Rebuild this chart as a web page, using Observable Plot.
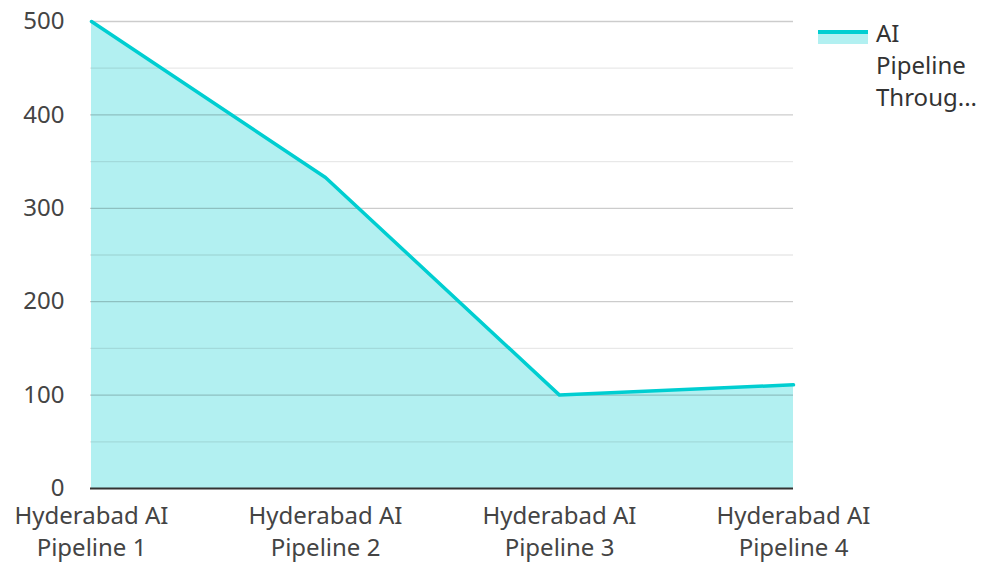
<!DOCTYPE html>
<html><head><meta charset="utf-8">
<script src="https://cdn.jsdelivr.net/npm/d3@7"></script>
<script src="https://cdn.jsdelivr.net/npm/@observablehq/plot@0.6"></script>
<style>
body{margin:0;background:#fff;font-family:"Noto Sans",sans-serif;}
#wrap{position:relative;width:982px;height:562px;overflow:hidden;}
#chart svg{overflow:visible;}
#legend{position:absolute;left:818px;top:17px;display:flex;align-items:flex-start;font-size:24px;color:#333;line-height:32px;}
#legend .sw{width:50px;height:14px;margin-top:13px;margin-right:8px;position:relative;background:rgba(0,206,209,0.3);border-top:4px solid #00CED1;box-sizing:border-box;}
</style></head><body>
<div id="wrap"><div id="chart"></div>
<div id="legend"><div class="sw"></div><div>AI<br>Pipeline<br>Throug...</div></div></div>
<script>
const categories = ["Hyderabad AI Pipeline 1","Hyderabad AI Pipeline 2","Hyderabad AI Pipeline 3","Hyderabad AI Pipeline 4"];
const values = [500, 333, 100, 111];
const seriesName = "AI Pipeline Throughput";
const yTicks = [0,100,200,300,400,500];
const yMinor = [50,150,250,350,450];
const data = categories.map((c,i)=>({cat:c, v:values[i]}));
const chart = Plot.plot({
  width:982, height:562,
  marginLeft:90, marginRight:189, marginTop:21, marginBottom:74,
  style:{fontFamily:"Noto Sans", fontSize:"24px", color:"#444", background:"#fff", overflow:"visible"},
  x:{type:"point", domain:categories, padding:0, label:null},
  y:{domain:[0,500], label:null},
  marks:[
    Plot.areaY(data,{x:"cat", y:"v", fill:"#00CED1", fillOpacity:0.3}),
    Plot.ruleY(yMinor,{stroke:"#000", strokeOpacity:0.09, strokeWidth:1.3}),
    Plot.ruleY(yTicks.filter(d=>d>0),{stroke:"#000", strokeOpacity:0.2, strokeWidth:1.3}),
    Plot.lineY(data,{x:"cat", y:"v", stroke:"#00CED1", strokeWidth:3.5}),
    Plot.ruleY([0],{stroke:"#333", strokeWidth:2}),
    Plot.axisY({ticks:yTicks, tickSize:0, tickPadding:26, fontSize:24, fill:"#444"}),
    Plot.axisX({tickSize:0, tickPadding:13, fontSize:24, fill:"#444", lineHeight:1.333,
      tickFormat:d=>d.replace(" Pipeline","\nPipeline")})
  ]
});
document.getElementById("chart").appendChild(chart);
</script></body></html>
